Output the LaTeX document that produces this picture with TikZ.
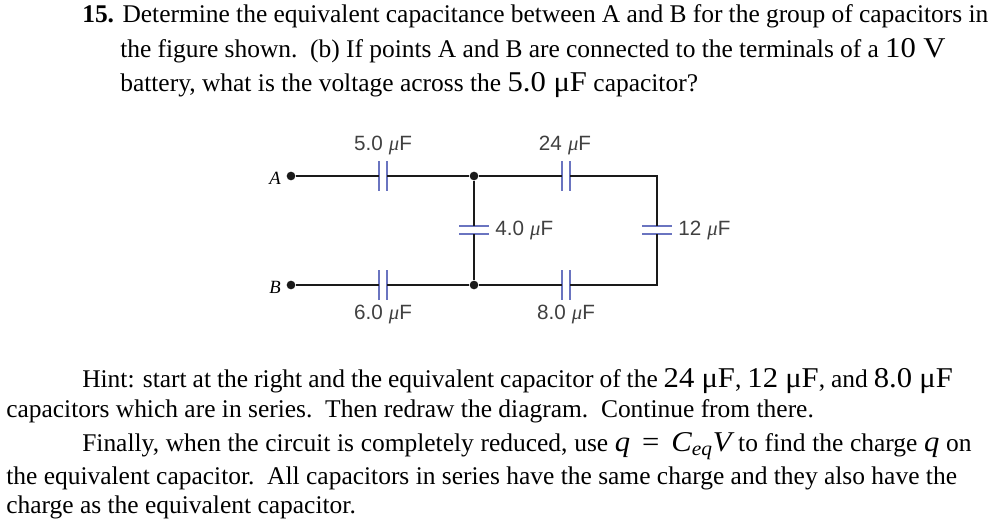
\documentclass[tikz,border=0pt]{standalone}
\usepackage{fontspec}
\setmainfont{Liberation Serif}
\setsansfont{Liberation Sans}
\newfontfamily\valfont[FakeStretch=1.07]{Liberation Serif}
\usepackage{tikz}
\usetikzlibrary{positioning}
\definecolor{platecol}{HTML}{6A74C0}
\definecolor{wirecol}{HTML}{1A1A1A}
\newcommand{\bigval}[1]{{\fontsize{21.5}{22}\selectfont\valfont #1}}
\newcommand{\lab}[1]{{\sffamily #1\hspace{0.3em}{\rmfamily\itshape\symbol{"03BC}}F}}
\tikzset{
  wire/.style={draw=wirecol,line width=1.5pt},
  plate/.style={draw=platecol,line width=1.6pt},
  dot/.style={circle,fill=wirecol,inner sep=0pt,minimum size=6.5pt},
  caph/.style={rectangle,inner sep=0pt,minimum width=6pt,minimum height=22pt,
    append after command={(\tikzlastnode.north west) edge[plate] (\tikzlastnode.south west)
      (\tikzlastnode.north east) edge[plate] (\tikzlastnode.south east)}},
  capv/.style={rectangle,inner sep=0pt,minimum width=22pt,minimum height=6pt,
    append after command={(\tikzlastnode.north west) edge[plate] (\tikzlastnode.north east)
      (\tikzlastnode.south west) edge[plate] (\tikzlastnode.south east)}},
  txt/.style={anchor=base west,inner sep=0pt,font=\fontsize{19.1}{22}\selectfont},
  val/.style={inner sep=0pt,text=black!75,font=\fontsize{15.5}{17}\selectfont}
}
\begin{document}
\begin{tikzpicture}[x=0.75pt,y=-0.75pt]
        \useasboundingbox (0,0) rectangle (992,524);

        % problem text
        \node[txt] (l1) at (82,23) {\hbox to 679.5pt{\textbf{15.} Determine the equivalent capacitance between A and B for the group of capacitors in}};
        \node[txt] (l2) at (120,58) {\hbox to 619pt{the figure shown.\ \ (b) If points A and B are connected to the terminals of a \bigval{10 V}}};
        \node[txt] (l3) at (120,92) {battery, what is the voltage across the \bigval{5.0 \symbol{"03BC}F} capacitor?};

        % circuit
        \node[dot] (a) at (291,176) {};
        \node[dot] (b) at (291,285) {};
        \node[dot] (j1) at (474,176) {};
        \node[dot] (j2) at (474,285) {};
        \coordinate (tr) at (657,176);
        \coordinate (br) at (657,285);
        \node[caph] (c5) at (383,176) {};
        \node[caph] (c24) at (566,176) {};
        \node[caph] (c6) at (383,285) {};
        \node[caph] (c8) at (566,285) {};
        \node[capv] (c4) at (474,230) {};
        \node[capv] (c12) at (657,230) {};

        \draw[wire] (a) -- (c5);
        \draw[wire] (c5) -- (j1);
        \draw[wire] (j1) -- (c24);
        \draw[wire] (c24) -- (tr) -- (c12);
        \draw[wire] (c12) -- (br) -- (c8);
        \draw[wire] (c8) -- (j2);
        \draw[wire] (j2) -- (c6);
        \draw[wire] (c6) -- (b);
        \draw[wire] (j1) -- (c4);
        \draw[wire] (c4) -- (j2);

        \node[txt,font=\fontsize{14}{16}\selectfont\itshape,anchor=east] (la) at (281,178) {A};
        \node[txt,font=\fontsize{14}{16}\selectfont\itshape,anchor=east] (lb) at (281,287) {B};
        \node[val] (v5) at (383,145) {\lab{5.0}};
        \node[val] (v24) at (565,145) {\lab{24}};
        \node[val] (v6) at (383,314) {\lab{6.0}};
        \node[val] (v8) at (566,314) {\lab{8.0}};
        \node[val,anchor=west] (v4) at (495,230) {\lab{4.0}};
        \node[val,anchor=west] (v12) at (678,230) {\lab{12}};

        % hint text
        \node[txt] (h1) at (82,387) {\hbox to 653pt{Hint: start at the right and the equivalent capacitor of the \bigval{24 \symbol{"03BC}F}, \bigval{12 \symbol{"03BC}F}, and \bigval{8.0 \symbol{"03BC}F}}};
        \node[txt] (h2) at (6,417) {capacitors which are in series.\ \ Then redraw the diagram.\ \ Continue from there.};
        \node[txt] (h3) at (82,451) {\hbox to 667pt{Finally, when the circuit is completely reduced, use \bigval{\itshape q}\hspace{9pt}\bigval{=}\hspace{9pt}\bigval{\itshape C\textsubscript{eq}V} to find the charge \bigval{\itshape q} on}};
        \node[txt] (h4) at (6,484) {\hbox to 713pt{the equivalent capacitor.\ \ All capacitors in series have the same charge and they also have the}};
        \node[txt] (h5) at (6,513) {charge as the equivalent capacitor.};
\end{tikzpicture}
\end{document}
